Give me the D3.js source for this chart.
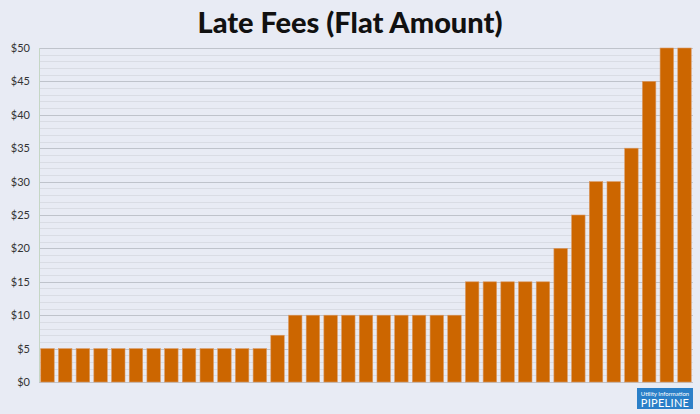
<!DOCTYPE html>
<html>
<head>
<meta charset="utf-8">
<script src="https://cdn.jsdelivr.net/npm/d3@7"></script>
<style>
  body { margin: 0; background: #e8ebf4; }
  svg { display: block; font-family: "Lato", "Open Sans", sans-serif; }
</style>
</head>
<body>
<script>
// one bar per utility, sorted by fee
var fees = [5, 5, 5, 5, 5, 5, 5, 5, 5, 5, 5, 5, 5, 7,
  10, 10, 10, 10, 10, 10, 10, 10, 10, 10,
  15, 15, 15, 15, 15, 20, 25, 30, 30, 35, 45, 50, 50];
var majorTicks = [0, 5, 10, 15, 20, 25, 30, 35, 40, 45, 50];
var minorTicks = d3.range(0, 51, 1);
var titleText = "Late Fees (Flat Amount)";

var svgWidth = 700, svgHeight = 414;
var margin = { top: 48, right: 7, bottom: 32, left: 39 };
var chartwidth = svgWidth - margin.left - margin.right;
var chartheight = svgHeight - margin.top - margin.bottom;

var svg = d3.select("body").append("svg")
  .attr("width", svgWidth)
  .attr("height", svgHeight);

svg.append("rect").attr("width", svgWidth).attr("height", svgHeight).attr("fill", "#e8ebf4");

svg.append("text")
  .attr("x", svgWidth / 2)
  .attr("y", 33)
  .attr("text-anchor", "middle")
  .attr("font-size", "28px")
  .attr("font-weight", "900")
  .attr("fill", "#111")
  .attr("textLength", 305)
  .attr("lengthAdjust", "spacingAndGlyphs")
  .text(titleText);

var chartGroup = svg.append("g")
  .attr("transform", `translate(${margin.left}, ${margin.top})`);

var x = d3.scaleBand()
  .domain(d3.range(fees.length))
  .range([0, chartwidth])
  .paddingInner(0.24)
  .paddingOuter(0.1);

var y = d3.scaleLinear().domain([0, 50]).range([chartheight, 0]);

// minor grid
chartGroup.append("g").selectAll("line")
  .data(minorTicks.filter(d => d % 5 !== 0))
  .enter().append("line")
  .attr("x1", 0).attr("x2", chartwidth)
  .attr("y1", d => Math.round(y(d)) + 0.5).attr("y2", d => Math.round(y(d)) + 0.5)
  .attr("stroke", "#d9dce4").attr("stroke-width", 1);

// major grid
chartGroup.append("g").selectAll("line")
  .data(majorTicks)
  .enter().append("line")
  .attr("x1", 0).attr("x2", chartwidth)
  .attr("y1", d => Math.round(y(d)) + 0.5).attr("y2", d => Math.round(y(d)) + 0.5)
  .attr("stroke", "#bfc3cb").attr("stroke-width", 1);

// left axis labels
var leftAxis = d3.axisLeft(y).tickValues(majorTicks).tickSize(0).tickPadding(9)
  .tickFormat(d => "$" + d);
var yAxisG = chartGroup.append("g").call(leftAxis);
yAxisG.select(".domain").remove();
yAxisG.selectAll("text").attr("font-size", "11px").attr("fill", "#333")
  .attr("font-family", "Lato, sans-serif");

chartGroup.append("line")
  .attr("x1", 0.5).attr("x2", 0.5).attr("y1", 0).attr("y2", chartheight)
  .attr("stroke", "#c5d6c5");

// bars
chartGroup.selectAll(".bar")
  .data(fees)
  .enter().append("rect")
  .attr("class", "bar")
  .attr("x", (d, i) => x(i))
  .attr("width", x.bandwidth())
  .attr("y", d => y(d))
  .attr("height", d => chartheight - y(d))
  .attr("fill", "#cc6600")
  .attr("stroke", "#d99a66")
  .attr("stroke-width", 0.6);

// logo
var logo = svg.append("g").attr("transform", "translate(637, 388)");
logo.append("rect").attr("width", 56).attr("height", 21).attr("fill", "#2a7fc8");
logo.append("text").attr("x", 28).attr("y", 7.5).attr("text-anchor", "middle")
  .attr("font-size", "6px").attr("fill", "#fff").text("Utility Information");
logo.append("text").attr("x", 28).attr("y", 18.5).attr("text-anchor", "middle")
  .attr("font-size", "11px").attr("fill", "#fff").attr("letter-spacing", "0.3").text("PIPELINE");
</script>
</body>
</html>
